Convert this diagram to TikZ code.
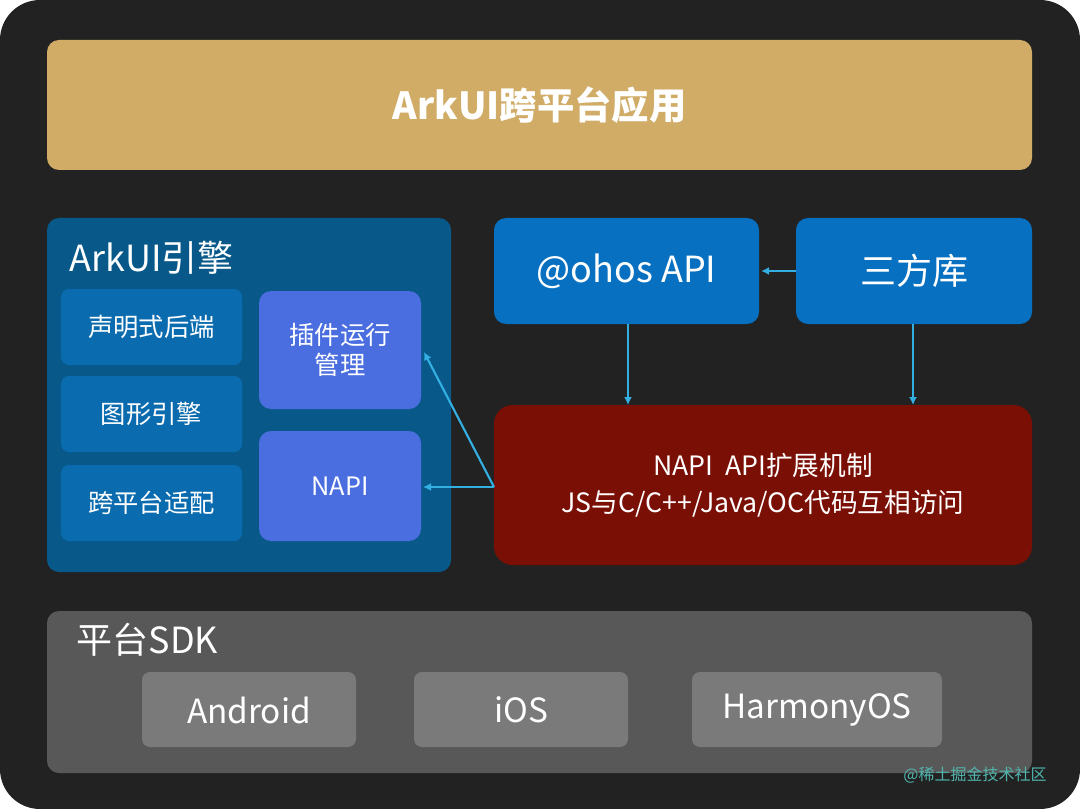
\documentclass[tikz,border=0pt]{standalone}
\usepackage{fontspec}
\setmainfont{Noto Sans CJK SC}
\begin{document}
\begin{tikzpicture}[x=0.75pt,y=-0.75pt,
  box/.style={rounded corners=9pt,draw=none},
  t/.style={text=white,font=\fontsize{19}{22}\selectfont},
  arr/.style={draw={rgb,255:red,106;green,168;blue,224},line width=1.6pt,-{Latex[length=6pt,width=6pt]}}]
\usetikzlibrary{arrows.meta}
\definecolor{bg}{HTML}{222222}
\definecolor{gold}{HTML}{D1AC67}
\definecolor{eng}{HTML}{08598A}
\definecolor{sub}{HTML}{0B6BAF}
\definecolor{plug}{HTML}{4A6EE0}
\definecolor{api}{HTML}{0870C0}
\definecolor{red}{HTML}{7A1005}
\definecolor{sdk}{HTML}{585858}
\definecolor{os}{HTML}{7A7A7A}
\fill[white] (0,0) rectangle (1080,809);
\useasboundingbox (0,0) rectangle (1080,809);
\fill[bg,rounded corners=30pt] (0,0) rectangle (1080,809);
\fill[gold,box] (47,40) rectangle (1032,170);
\node[t,font=\fontsize{28}{32}\selectfont\bfseries] (app) at (539.5,105) {ArkUI跨平台应用};
\fill[eng,box] (47,218) rectangle (451,572);
\node[t,anchor=west,font=\fontsize{27}{30}\selectfont] (engt) at (65,258) {ArkUI引擎};
\fill[sub,box,rounded corners=6pt] (61,289) rectangle (242,365);
\node[t] (s1) at (151.5,327) {声明式后端};
\fill[sub,box,rounded corners=6pt] (61,376) rectangle (242,452);
\node[t] (s2) at (151.5,414) {图形引擎};
\fill[sub,box,rounded corners=6pt] (61,465) rectangle (242,541);
\node[t] (s3) at (151.5,503) {跨平台适配};
\fill[plug,box] (259,291) rectangle (421,409);
\node[t,align=center] (plug) at (340,350) {插件运行\\管理};
\fill[plug,box] (259,431) rectangle (421,541);
\node[t] (napi) at (340,486) {NAPI};
\fill[api,box] (494,218) rectangle (759,324);
\node[t,font=\fontsize{27}{30}\selectfont] (ohos) at (626.5,271) {@ohos API};
\fill[api,box] (796,218) rectangle (1032,324);
\node[t,font=\fontsize{27}{30}\selectfont] (third) at (914,271) {三方库};
\fill[red,box,rounded corners=14pt] (494,405) rectangle (1032,565);
\node[t,align=center,font=\fontsize{20}{28}\selectfont] (ext) at (763,485) {NAPI\ \ API扩展机制\\JS与C/C++/Java/OC代码互相访问};
\fill[sdk,box] (47,611) rectangle (1032,773);
\node[t,anchor=west,font=\fontsize{27}{30}\selectfont] (sdkt) at (72,640) {平台SDK};
\fill[os,box,rounded corners=6pt] (142,672) rectangle (356,747);
\node[t,font=\fontsize{25}{28}\selectfont] (and) at (249,710) {Android};
\fill[os,box,rounded corners=6pt] (414,672) rectangle (628,747);
\node[t,font=\fontsize{25}{28}\selectfont] (ios) at (521,710) {iOS};
\fill[os,box,rounded corners=6pt] (692,672) rectangle (942,747);
\node[t,font=\fontsize{25}{28}\selectfont] (hos) at (817,710) {HarmonyOS};
\coordinate (a1) at (796,271); \coordinate (a2) at (761,271);
\coordinate (b1) at (628,324); \coordinate (b2) at (628,405);
\coordinate (c1) at (913,324); \coordinate (c2) at (913,405);
\coordinate (d1) at (494,487); \coordinate (d2) at (423,487);
\coordinate (e2) at (424,352);
\draw[arr] (a1) -- (a2);
\draw[arr] (b1) -- (b2);
\draw[arr] (c1) -- (c2);
\draw[arr] (d1) -- (d2);
\draw[arr] (d1) -- (e2);
\node[text={rgb,255:red,170;green,170;blue,170},font=\fontsize{12}{14}\selectfont] (wm) at (975,775) {@稀土掘金技术社区};
\end{tikzpicture}
\end{document}
